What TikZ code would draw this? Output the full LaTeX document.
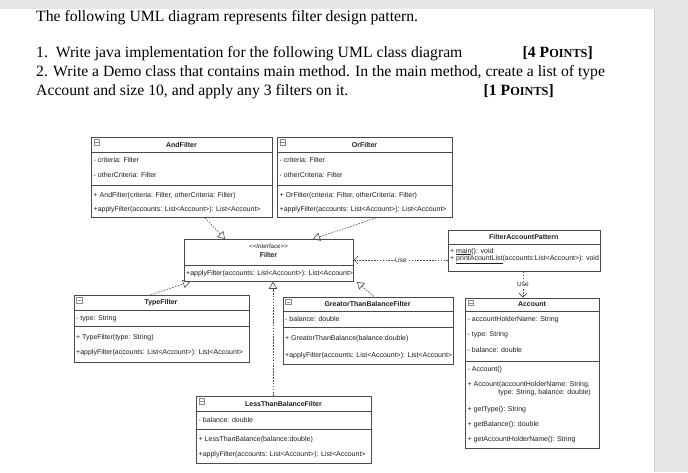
\documentclass[tikz,border=0pt]{standalone}
\usepackage{fontspec}
\setmainfont{Liberation Serif}
\newfontfamily\umlf{Liberation Sans}
\usetikzlibrary{arrows.meta}
\definecolor{pagegrey}{HTML}{E6E6E6}
\definecolor{edgegrey}{HTML}{D2D2D2}
\definecolor{boxline}{HTML}{4A4A4A}
\definecolor{umltext}{HTML}{1E1E1E}
\definecolor{icongrey}{HTML}{8A8A8A}
\tikzset{
  umlbox/.style={draw=boxline, line width=0.8pt, fill=white, inner sep=0pt, anchor=north west},
  sepline/.style={draw=boxline, line width=0.6pt},
  row/.style={anchor=west, inner sep=0pt, text=umltext, font=\umlf\fontsize{7}{8}\selectfont},
  rowE/.style={row, anchor=east},
  ttl/.style={anchor=center, inner sep=0pt, text=umltext, font=\umlf\bfseries\fontsize{7}{8}\selectfont},
  stereo/.style={anchor=center, inner sep=0pt, text=umltext, font=\umlf\itshape\fontsize{6.2}{7}\selectfont},
  iconbox/.style={draw=icongrey, line width=0.5pt, fill=white},
  realize/.style={draw=boxline, line width=0.6pt, dash pattern=on 1.6pt off 1.3pt,
     -{Triangle[open, length=7pt, width=8.5pt, line width=0.6pt]}},
  usedep/.style={draw=boxline, line width=0.6pt, dash pattern=on 1.6pt off 1.3pt,
     -{Straight Barb[length=4pt, width=8pt, line width=0.6pt]}},
  uselbl/.style={fill=white, inner sep=0.6pt, text=umltext, font=\umlf\fontsize{6.5}{7}\selectfont},
  para/.style={anchor=base west, inner sep=0pt, font=\fontsize{15.7}{18}\selectfont},
  paraE/.style={anchor=base east, inner sep=0pt, font=\fontsize{15.7}{18}\selectfont},
}
\newcommand\smcp[1]{{\fontsize{12.3}{14}\selectfont #1}}
\begin{document}
\begin{tikzpicture}[x=1pt,y=-1pt]
\useasboundingbox (0,0) rectangle (688,472);
% page background
\fill[pagegrey] (0,0) rectangle (688,472);
\fill[white] (0,9) rectangle (654,472);
\draw[edgegrey, line width=0.8pt] (654.4,9) -- (654.4,472);

% question text
\node[para] (t1) at (36,21) {The following UML diagram represents filter design pattern.};
\node[para] (t2) at (36,57) {1.\ \ Write java implementation for the following UML class diagram};
\node[paraE] (t2p) at (593,57) {\bfseries [4 P\smcp{OINTS}]};
\node[para] (t3) at (36,76) {2. Write a Demo class that contains main method. In the main method, create a list of type};
\node[para] (t4) at (36,95) {Account and size 10, and apply any 3 filters on it.};
\node[paraE] (t4p) at (554,95) {\bfseries [1 P\smcp{OINTS}]};

% ---------- AndFilter ----------
\node[umlbox, minimum width=181pt, minimum height=80pt] (andf) at (91,137) {};
\draw[iconbox] (94,139.5) rectangle (99.5,145);
\draw[icongrey, line width=0.5pt] (95,142.25) -- (98.5,142.25);
\node[ttl] (andft) at (181.5,145) {AndFilter};
\draw[sepline] (91,152.5) -- (272,152.5);
\node[row] (andf1) at (93.5,160) {- criteria: Filter};
\node[row] (andf2) at (93.5,174.5) {- otherCriteria: Filter};
\draw[sepline] (91,185) -- (272,185);
\node[row] (andf3) at (93.5,195.5) {+ AndFilter(criteria: Filter, otherCriteria: Filter)};
\node[row] (andf4) at (93.5,210) {+applyFilter(accounts: List<Account>): List<Account>};

% ---------- OrFilter ----------
\node[umlbox, minimum width=175pt, minimum height=80pt] (orf) at (277,137) {};
\draw[iconbox] (280,139.5) rectangle (285.5,145);
\draw[icongrey, line width=0.5pt] (281,142.25) -- (284.5,142.25);
\node[ttl] (orft) at (364.5,145) {OrFilter};
\draw[sepline] (277,152.5) -- (452,152.5);
\node[row] (orf1) at (279.5,160) {- criteria: Filter};
\node[row] (orf2) at (279.5,174.5) {- otherCriteria: Filter};
\draw[sepline] (277,185) -- (452,185);
\node[row] (orf3) at (279.5,195.5) {+ OrFilter(criteria: Filter, otherCriteria: Filter)};
\node[row] (orf4) at (279.5,210) {+applyFilter(accounts: List<Account>): List<Account>};

% ---------- Filter interface ----------
\node[umlbox, minimum width=169pt, minimum height=42pt] (filt) at (184,239) {};
\node[stereo] (filts) at (268.5,246.5) {<<Interface>>};
\node[ttl] (filtt) at (268.5,254.5) {Filter};
\draw[sepline] (184,265.5) -- (353,265.5);
\node[row] (filt1) at (186,273.5) {+applyFilter(accounts: List<Account>): List<Account>};

% ---------- FilterAccountPattern ----------
\node[umlbox, minimum width=151.5pt, minimum height=41pt] (fap) at (448,230) {};
\node[ttl] (fapt) at (523.75,237) {FilterAccountPattern};
\draw[sepline] (448,244.5) -- (599.5,244.5);
\node[row] (fap1) at (450,251.5) {+ \underline{main}(): void};
\node[row] (fap2) at (450,260) {+ \underline{printAcountList}(accounts:List<Account>): void};

% ---------- TypeFilter ----------
\node[umlbox, minimum width=175pt, minimum height=66.5pt] (typ) at (73.5,295) {};
\draw[iconbox] (76.5,297.5) rectangle (82,303);
\draw[icongrey, line width=0.5pt] (77.5,300.25) -- (81,300.25);
\node[ttl] (typt) at (161,303) {TypeFilter};
\draw[sepline] (73.5,310) -- (248.5,310);
\node[row] (typ1) at (76,318.5) {- type: String};
\draw[sepline] (73.5,326.5) -- (248.5,326.5);
\node[row] (typ2) at (76,337.5) {+ TypeFilter(type: String)};
\node[row] (typ3) at (76,353) {+applyFilter(accounts: List<Account>): List<Account>};

% ---------- GreatorThanBalanceFilter ----------
\node[umlbox, minimum width=170pt, minimum height=67.5pt] (grt) at (282.5,296.5) {};
\draw[iconbox] (285.5,299) rectangle (291,304.5);
\draw[icongrey, line width=0.5pt] (286.5,301.75) -- (290,301.75);
\node[ttl] (grtt) at (367.5,304) {GreatorThanBalanceFilter};
\draw[sepline] (282.5,311) -- (452.5,311);
\node[row] (grt1) at (285,319) {- balance: double};
\draw[sepline] (282.5,327.5) -- (452.5,327.5);
\node[row] (grt2) at (285,339) {+ GreatorThanBalance(balance:double)};
\node[row] (grt3) at (285,355.5) {+applyFilter(accounts: List<Account>): List<Account>};

% ---------- Account ----------
\node[umlbox, minimum width=134pt, minimum height=150pt] (acc) at (465,297.5) {};
\draw[iconbox] (468,300) rectangle (473.5,305.5);
\draw[icongrey, line width=0.5pt] (469,302.75) -- (472.5,302.75);
\node[ttl] (acct) at (532,304.5) {Account};
\draw[sepline] (465,311.5) -- (599,311.5);
\node[row] (acc1) at (467.5,319.5) {- accountHolderName: String};
\node[row] (acc2) at (467.5,335) {- type: String};
\node[row] (acc3) at (467.5,350) {- balance: double};
\draw[sepline] (465,361) -- (599,361);
\node[row] (acc4) at (467.5,369.5) {- Account()};
\node[row] (acc5) at (467.5,385) {+ Account(accountHolderName: String,};
\node[rowE] (acc6) at (591,392.5) {type: String, balance: double)};
\node[row] (acc7) at (467.5,409.5) {+ getType(): String};
\node[row] (acc8) at (467.5,424.5) {+ getBalance(): double};
\node[row] (acc9) at (467.5,440) {+ getAccountHolderName(): String};

% ---------- LessThanBalanceFilter ----------
\node[umlbox, minimum width=175pt, minimum height=66.5pt] (less) at (196,396) {};
\draw[iconbox] (199,398.5) rectangle (204.5,404);
\draw[icongrey, line width=0.5pt] (200,401.25) -- (203.5,401.25);
\node[ttl] (lesst) at (283.5,404) {LessThanBalanceFilter};
\draw[sepline] (196,411.5) -- (371,411.5);
\node[row] (less1) at (198.5,419.5) {- balance: double};
\draw[sepline] (196,429.5) -- (371,429.5);
\node[row] (less2) at (198.5,439.5) {+ LessThanBalance(balance:double)};
\node[row] (less3) at (198.5,455) {+applyFilter(accounts: List<Account>): List<Account>};

% ---------- connectors ----------
\draw[realize] ([xshift=114pt]andf.south west) -- ([xshift=41pt]filt.north west);
\draw[realize] ([xshift=99.5pt]orf.south west) -- ([xshift=129pt]filt.north west);
\draw[realize] ([xshift=76.5pt]typ.north west) -- ([xshift=6pt]filt.south west);
\draw[realize] ([xshift=77pt]less.north west) -- ([xshift=89pt]filt.south west);
\draw[realize] ([xshift=91.5pt]grt.north west) -- ([xshift=3pt]filt.south east);
\draw[usedep] ([yshift=-30pt]fap.north west) -- node[uselbl] (use1) {Use} ([yshift=-21pt]filt.north east);
\draw[usedep] ([xshift=75pt]fap.south west) -- node[uselbl] (use2) {Use} ([xshift=58pt]acc.north west);
\end{tikzpicture}
\end{document}
